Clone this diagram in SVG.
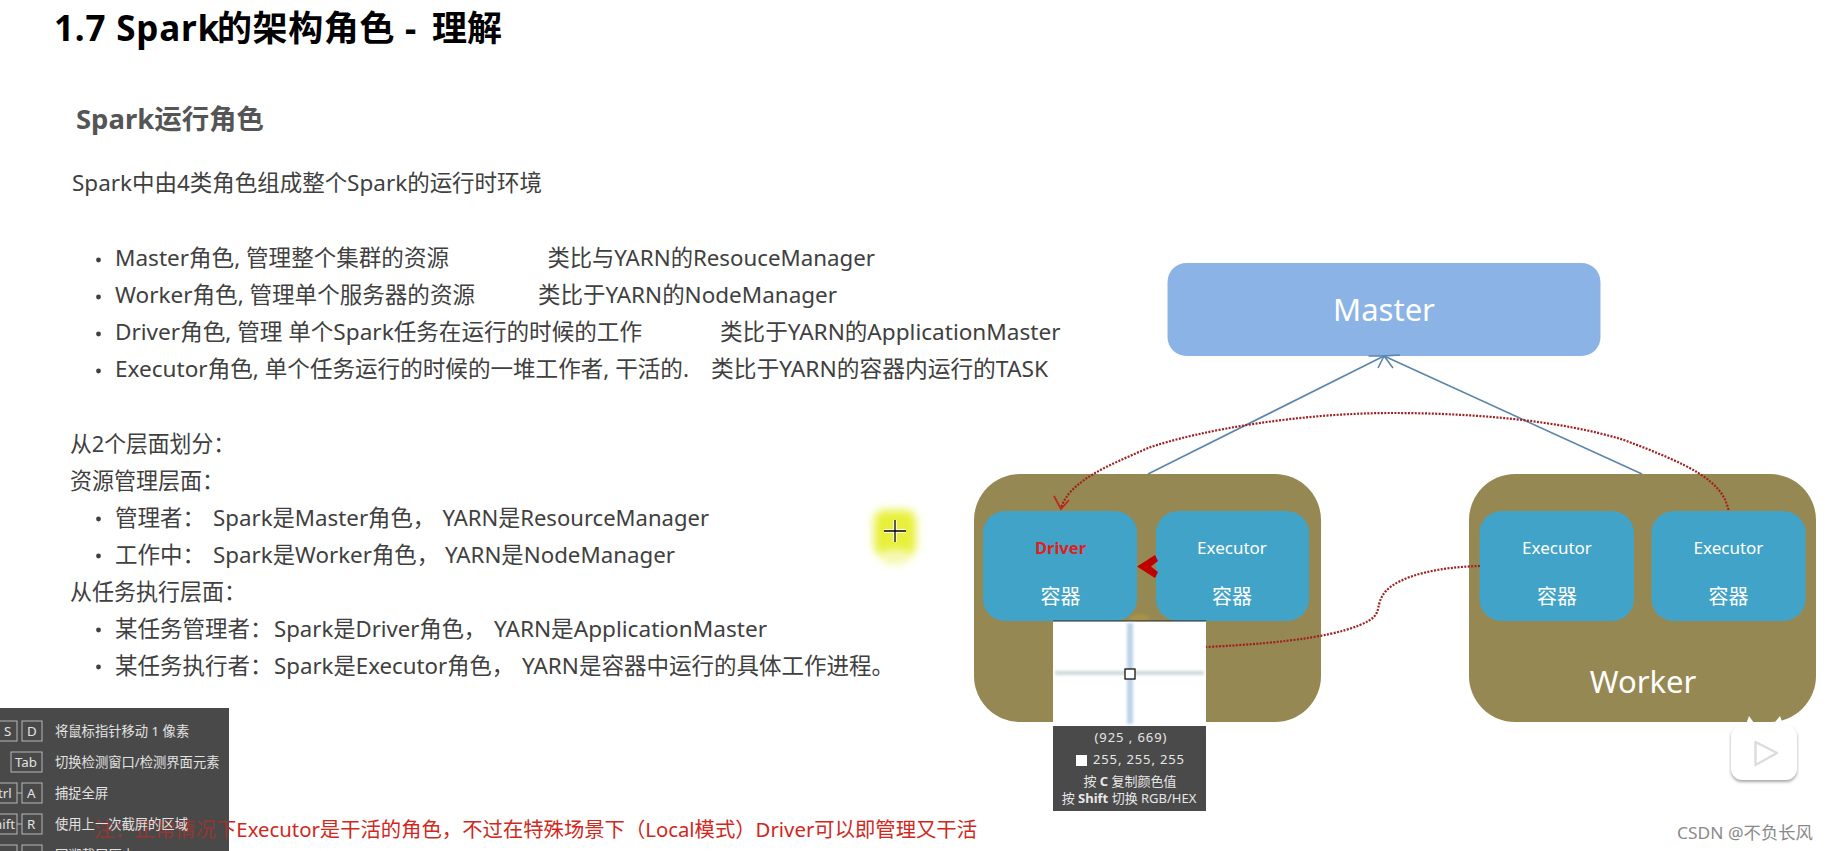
<svg xmlns="http://www.w3.org/2000/svg" width="1828" height="851" viewBox="0 0 1828 851">
<defs>
<style>
text{font-family:"Noto Sans","Noto Sans CJK SC",sans-serif}
.h1{font-size:35px;font-weight:700;fill:#000}
.h2{font-size:27px;font-weight:700;fill:#555}
.b{font-size:22.5px;fill:#404040}
.dot{fill:#404040}
.pw{font-size:13.3px;fill:#e2e2e2}
.key{fill:none;stroke:#b8b8b8;stroke-width:1}
.mg{font-size:13px;fill:#e6e6e6;text-anchor:middle}
.w{fill:#968853}
.c{fill:#41a3c8}
.cl{font-size:20px;fill:#fff;text-anchor:middle}
.ex{font-size:17px;fill:#fff;text-anchor:middle}
.dr{font-size:16.5px;font-weight:700;fill:#e0201c;text-anchor:middle}
.big{font-size:31px;fill:#fff;text-anchor:middle}
.note{font-size:20.5px;fill:#d0281c}
.wm{font-size:17px;fill:#8a8a8a}
.link{fill:none;stroke:#5a86ab;stroke-width:1.6}
.dots{fill:none;stroke:#a02020;stroke-width:2.2;stroke-dasharray:2 1.4}
.head{fill:none;stroke:#c0281c;stroke-width:1.8}
</style>
<filter id="blur4" x="-50%" y="-50%" width="200%" height="200%"><feGaussianBlur stdDeviation="4"/></filter>
<filter id="blur1" x="-40%" y="-40%" width="180%" height="180%"><feGaussianBlur stdDeviation="1.4"/></filter>
</defs>
<rect width="1828" height="851" fill="#fff"/>

<g id="page-text">
<text class="h1" y="41"><tspan x="54" letter-spacing="0.8">1.7 Spark</tspan><tspan x="217" letter-spacing="0.6">的架构角色 </tspan><tspan x="405">- </tspan><tspan x="432">理解</tspan></text>
<text class="h2" x="76" y="129" textLength="188" lengthAdjust="spacingAndGlyphs">Spark运行角色</text>
<text class="b" x="72" y="191" textLength="470" lengthAdjust="spacingAndGlyphs">Spark中由4类角色组成整个Spark的运行时环境</text>
<g class="dot">
<circle cx="98.5" cy="260" r="2.4"/><circle cx="98.5" cy="297" r="2.4"/><circle cx="98.5" cy="334" r="2.4"/><circle cx="98.5" cy="371" r="2.4"/>
<circle cx="98.5" cy="519" r="2.4"/><circle cx="98.5" cy="556" r="2.4"/><circle cx="98.5" cy="630" r="2.4"/><circle cx="98.5" cy="667" r="2.4"/>
</g>
<text class="b" x="115" y="266" textLength="334" lengthAdjust="spacingAndGlyphs">Master角色, 管理整个集群的资源</text>
<text class="b" x="547.5" y="266" textLength="327.5" lengthAdjust="spacingAndGlyphs">类比与YARN的ResouceManager</text>
<text class="b" x="115" y="303" textLength="360" lengthAdjust="spacingAndGlyphs">Worker角色, 管理单个服务器的资源</text>
<text class="b" x="538" y="303" textLength="299" lengthAdjust="spacingAndGlyphs">类比于YARN的NodeManager</text>
<text class="b" x="115" y="340" textLength="527" lengthAdjust="spacingAndGlyphs">Driver角色, 管理 单个Spark任务在运行的时候的工作</text>
<text class="b" x="720" y="340" textLength="340.5" lengthAdjust="spacingAndGlyphs">类比于YARN的ApplicationMaster</text>
<text class="b" x="115" y="377" textLength="574" lengthAdjust="spacingAndGlyphs">Executor角色, 单个任务运行的时候的一堆工作者, 干活的.</text>
<text class="b" x="711" y="377" textLength="337" lengthAdjust="spacingAndGlyphs">类比于YARN的容器内运行的TASK</text>
<text class="b" x="70" y="452" textLength="165" lengthAdjust="spacingAndGlyphs">从2个层面划分：</text>
<text class="b" x="70" y="489" textLength="154" lengthAdjust="spacingAndGlyphs">资源管理层面：</text>
<text class="b" x="115" y="526">管理者：</text>
<text class="b" x="213" y="526" textLength="222" lengthAdjust="spacingAndGlyphs">Spark是Master角色，</text>
<text class="b" x="442.5" y="526" textLength="266.5" lengthAdjust="spacingAndGlyphs">YARN是ResourceManager</text>
<text class="b" x="115" y="563">工作中：</text>
<text class="b" x="213" y="563" textLength="226" lengthAdjust="spacingAndGlyphs">Spark是Worker角色，</text>
<text class="b" x="445" y="563" textLength="230" lengthAdjust="spacingAndGlyphs">YARN是NodeManager</text>
<text class="b" x="70" y="600" textLength="176" lengthAdjust="spacingAndGlyphs">从任务执行层面：</text>
<text class="b" x="115" y="637">某任务管理者：</text>
<text class="b" x="274" y="637" textLength="212" lengthAdjust="spacingAndGlyphs">Spark是Driver角色，</text>
<text class="b" x="494" y="637" textLength="273" lengthAdjust="spacingAndGlyphs">YARN是ApplicationMaster</text>
<text class="b" x="115" y="674">某任务执行者：</text>
<text class="b" x="274" y="674" textLength="240" lengthAdjust="spacingAndGlyphs">Spark是Executor角色，</text>
<text class="b" x="522" y="674" textLength="372" lengthAdjust="spacingAndGlyphs">YARN是容器中运行的具体工作进程。</text>
</g>

<g id="cursor">
<rect x="874" y="510" width="42" height="46" rx="10" fill="#e8f03a" filter="url(#blur4)"/>
<rect x="882" y="550" width="26" height="14" rx="6" fill="#f6f8b0" filter="url(#blur4)"/>
<path d="M895 520V542M884 531H906" stroke="#fff" stroke-width="3.4" fill="none"/>
<path d="M895 520V542M884 531H906" stroke="#000" stroke-width="1.3" fill="none"/>
</g>

<g id="shortcut-panel">
<rect x="0" y="708" width="229" height="143" fill="#4a4a4a"/>
<text class="note" x="94" y="837" textLength="883" lengthAdjust="spacingAndGlyphs">注：正常情况下Executor是干活的角色，不过在特殊场景下（Local模式）Driver可以即管理又干活</text>
<rect x="0" y="708" width="229" height="143" fill="#4a4a4a" fill-opacity="0.45"/>
<g class="key">
<rect x="-10" y="721" width="27" height="20"/><rect x="22" y="721" width="20" height="20"/>
<rect x="11" y="752" width="31" height="20"/>
<rect x="-20" y="783" width="37" height="20"/><path d="M17 793H22"/><rect x="22" y="783" width="20" height="20"/>
<rect x="-20" y="814" width="37" height="20"/><path d="M17 824H22"/><rect x="22" y="814" width="20" height="20"/>
<rect x="-10" y="845" width="27" height="20"/><rect x="22" y="845" width="20" height="20"/>
</g>
<text class="pw" x="4" y="736">S</text>
<text class="pw" x="27" y="736">D</text>
<text class="pw" x="15" y="767">Tab</text>
<text class="pw" x="-2" y="798">trl</text>
<text class="pw" x="27" y="798">A</text>
<text class="pw" x="-6" y="829">hift</text>
<text class="pw" x="27" y="829">R</text>
<text class="pw" x="55" y="736">将鼠标指针移动 1 像素</text>
<text class="pw" x="55" y="767">切换检测窗口/检测界面元素</text>
<text class="pw" x="55" y="798">捕捉全屏</text>
<text class="pw" x="55" y="829">使用上一次截屏的区域</text>
<text class="pw" x="55" y="860">回溯截屏历史</text>
</g>

<g id="master">
<rect x="1167.5" y="263" width="433" height="93" rx="19" fill="#8bb3e5"/>
<text class="big" x="1384" y="320.5">Master</text>
</g>

<g id="worker-left">
<rect class="w" x="974" y="474" width="347" height="248" rx="46"/>
</g>
<g id="driver">
<rect class="c" x="983" y="511" width="154" height="110" rx="22"/>
<text class="dr" x="1060.5" y="554">Driver</text>
<text class="cl" x="1060.5" y="604">容器</text>
</g>
<g id="executor-1">
<rect class="c" x="1156" y="511" width="153" height="110" rx="22"/>
<text class="ex" x="1232" y="554">Executor</text>
<text class="cl" x="1232" y="604">容器</text>
</g>
<g id="worker-right">
<rect class="w" x="1469" y="474" width="347" height="248" rx="46"/>
<text class="big" x="1643" y="693">Worker</text>
</g>
<g id="executor-2">
<rect class="c" x="1479.5" y="511" width="154.5" height="110" rx="22"/>
<text class="ex" x="1557" y="554">Executor</text>
<text class="cl" x="1557" y="604">容器</text>
</g>
<g id="executor-3">
<rect class="c" x="1651.5" y="511" width="154" height="110" rx="22"/>
<text class="ex" x="1728.5" y="554">Executor</text>
<text class="cl" x="1728.5" y="604">容器</text>
</g>

<g id="connectors">
<path class="link" d="M1148 474L1384 356"/>
<path class="link" d="M1642 474L1384 356"/>
<path class="link" d="M1368.5 356L1384 356L1378 368M1400 355L1384 356L1393 368"/>
<path class="dots" d="M1728.5 510C1722 480 1690 465 1624 440C1560 420 1470 413 1392 413C1300 413 1200 430 1148 448C1110 465 1070 480 1061 508"/>
<path class="head" d="M1054 496L1061 509L1069 500"/>
<path class="dots" d="M1480 566C1440 567 1400 575 1385 592C1375 605 1382 612 1370 620C1345 635 1290 643 1206 647"/>
<path d="M1137 566.5L1155 555L1158 561L1151 566.5L1158 572L1155 578Z" fill="#c00000"/>
</g>

<g id="magnifier">
<ellipse cx="1140" cy="618" rx="10" ry="4" fill="#b59a40" fill-opacity="0.55" filter="url(#blur1)"/>
<rect x="1053" y="621" width="153" height="105" fill="#fff"/>
<path d="M1053 621H1206" stroke="#222" stroke-width="1"/>
<rect x="1127" y="623" width="6" height="101" fill="#bcd3e8" filter="url(#blur1)"/>
<rect x="1055" y="671" width="149" height="4" fill="#cdd8d8" filter="url(#blur1)"/>
<rect x="1125" y="669" width="10" height="10" fill="#fff" stroke="#000" stroke-width="1.2"/>
<rect x="1053" y="726" width="153" height="85" fill="#4a4a4a"/>
<text class="mg" x="1130.5" y="742" textLength="72" lengthAdjust="spacing">(925 , 669)</text>
<rect x="1076" y="755" width="11" height="11" fill="#fff"/>
<text class="mg" x="1138.5" y="764" textLength="91" lengthAdjust="spacing">255, 255, 255</text>
<text class="mg" x="1130" y="786">按 <tspan font-weight="700">C</tspan> 复制颜色值</text>
<text class="mg" x="1129" y="803">按 <tspan font-weight="700">Shift</tspan> 切换 RGB/HEX</text>
</g>

<g id="play-icon">
<rect x="1731" y="727" width="66" height="55" rx="11" fill="#a6a6a6" filter="url(#blur1)"/>
<path d="M1749 716L1757 727H1745ZM1780 716L1784 727H1771Z" fill="#fff"/>
<rect x="1731" y="725" width="66" height="55" rx="11" fill="#fff"/>
<path d="M1755.5 742L1777 753L1755.5 765Z" fill="#fff" stroke="#dcdcdc" stroke-width="2.4" stroke-linejoin="round"/>
</g>

<g id="watermark">
<text class="wm" x="1677" y="839" textLength="136" lengthAdjust="spacingAndGlyphs">CSDN @不负长风</text>
</g>
</svg>
